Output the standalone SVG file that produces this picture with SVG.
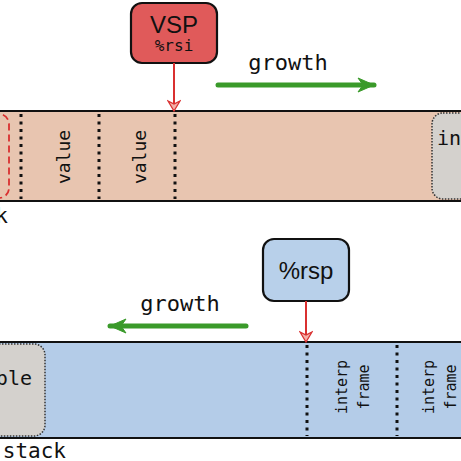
<svg xmlns="http://www.w3.org/2000/svg" width="461" height="461" viewBox="0 0 461 461">
<style>
.mono{font-family:"DejaVu Sans Mono","Liberation Mono",monospace;fill:#111}
.sans{font-family:"Liberation Sans",Arial,sans-serif;fill:#111}
.strip{stroke:#111;stroke-width:2}
.div{stroke:#111;stroke-width:3;stroke-dasharray:3 4.5}
.grey{fill:#d4d1cd;stroke:#333;stroke-width:1.5;stroke-dasharray:1.5 1.5}
.ptr{stroke:#d93030;stroke-width:2;fill:none}
.grow{stroke:#3a9a2a;stroke-width:5;stroke-linecap:round;fill:none}
</style>
<defs>
<marker id="redHead" markerWidth="14" markerHeight="14" refX="12" refY="7" orient="auto" markerUnits="userSpaceOnUse" viewBox="0 0 14 14">
<path d="M2,1 L12,7 L2,13 L5,7 Z" fill="#f4b0a8" stroke="#d93030" stroke-width="1.3"/>
</marker>
<marker id="greenHead" markerWidth="20" markerHeight="16" refX="18" refY="8" orient="auto" markerUnits="userSpaceOnUse" viewBox="0 0 20 16">
<path d="M2,1 L18,8 L2,15 L7,8 Z" fill="#3a9a2a" stroke="#3a9a2a" stroke-width="1"/>
</marker>
</defs>

<g id="top-stack">
<rect class="strip" x="-5" y="111" width="475" height="90" fill="#e8c5b0"/>
<line class="div" x1="21" y1="114" x2="21" y2="199"/>
<line class="div" x1="99" y1="114" x2="99" y2="199"/>
<line class="div" x1="175" y1="114" x2="175" y2="199"/>
<rect x="-40" y="114" width="49" height="84" rx="10" fill="none" stroke="#d93030" stroke-width="1.8" stroke-dasharray="7 4"/>
<text class="mono" font-size="18" text-anchor="middle" transform="translate(70,157) rotate(-90)">value</text>
<text class="mono" font-size="18" text-anchor="middle" transform="translate(146,157) rotate(-90)">value</text>
<rect class="grey" x="432" y="113" width="60" height="86" rx="11"/>
<text class="mono" font-size="20" x="437" y="145">interp</text>
<text class="mono" font-size="21" x="8" y="223" text-anchor="end">stack</text>
</g>

<g id="vsp">
<rect x="131" y="3" width="86" height="60" rx="11" fill="#e05a5a" stroke="#111" stroke-width="2.2"/>
<text class="sans" font-size="24" x="174" y="33" text-anchor="middle">VSP</text>
<text class="mono" font-size="16" x="174" y="51" text-anchor="middle">%rsi</text>
</g>

<g id="bottom-stack">
<rect class="strip" x="-5" y="342" width="475" height="96" fill="#b4cce8"/>
<line class="div" x1="307" y1="345" x2="307" y2="436"/>
<line class="div" x1="397" y1="345" x2="397" y2="436"/>
<rect class="grey" x="-30" y="344" width="75" height="92" rx="11"/>
<text class="mono" font-size="20" x="32" y="385" text-anchor="end">unwindable</text>
<text class="mono" font-size="15" text-anchor="middle" transform="translate(347,387) rotate(-90)">interp</text>
<text class="mono" font-size="15" text-anchor="middle" transform="translate(369,387) rotate(-90)">frame</text>
<text class="mono" font-size="15" text-anchor="middle" transform="translate(434,387) rotate(-90)">interp</text>
<text class="mono" font-size="15" text-anchor="middle" transform="translate(456,387) rotate(-90)">frame</text>
<text class="mono" font-size="21" x="66" y="458" text-anchor="end">stack</text>
</g>

<g id="rsp">
<rect x="263" y="239" width="86" height="62" rx="11" fill="#b8d0ea" stroke="#111" stroke-width="2.2"/>
<text class="sans" font-size="24" x="306" y="279" text-anchor="middle">%rsp</text>
</g>

<g id="connectors">
<line class="ptr" x1="174" y1="63" x2="174" y2="111" marker-end="url(#redHead)"/>
<line class="ptr" x1="306" y1="301" x2="306" y2="342" marker-end="url(#redHead)"/>
<line class="grow" x1="218" y1="85" x2="374" y2="85" marker-end="url(#greenHead)"/>
<line class="grow" x1="246" y1="326" x2="110" y2="326" marker-end="url(#greenHead)"/>
<text class="mono" font-size="22" x="288" y="70" text-anchor="middle">growth</text>
<text class="mono" font-size="22" x="180" y="311" text-anchor="middle">growth</text>
</g>
</svg>
